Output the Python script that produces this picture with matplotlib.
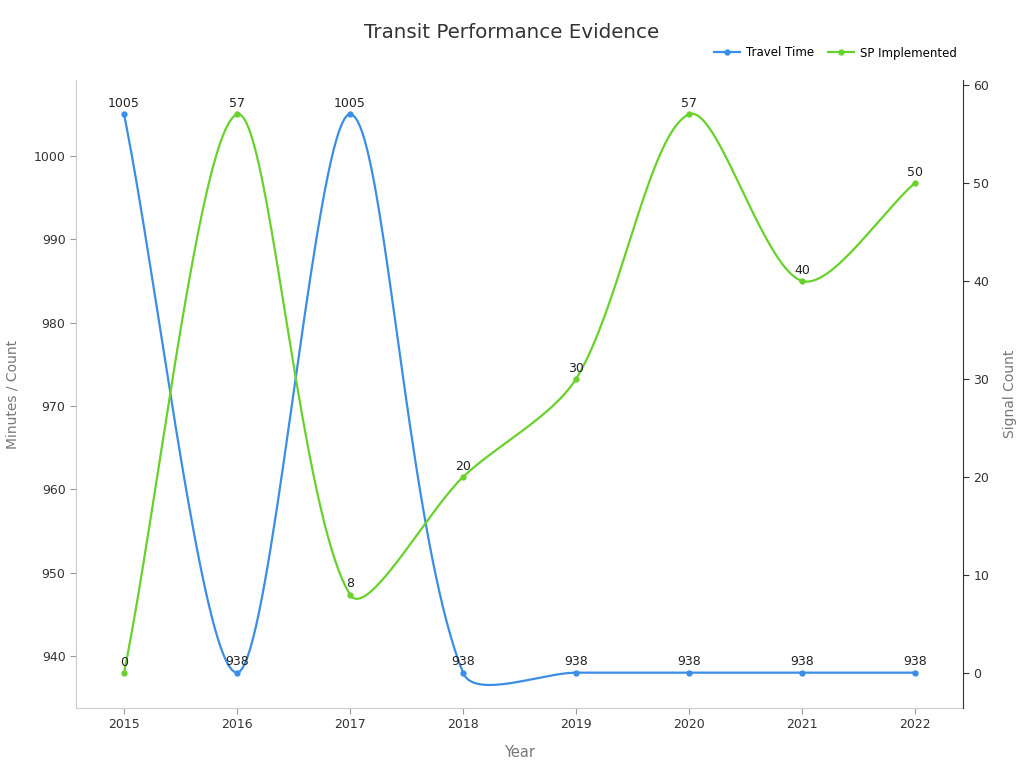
import numpy as np
import matplotlib
matplotlib.use("Agg")
import matplotlib.pyplot as plt
from matplotlib.lines import Line2D

years = [2015, 2016, 2017, 2018, 2019, 2020, 2021, 2022]
travel_time = [1005, 938, 1005, 938, 938, 938, 938, 938]
sp_implemented = [0, 57, 8, 20, 30, 57, 40, 50]

blue = "#3a8ee6"
green = "#67d22b"


def smooth_curve(ax, xs, ys, smooth=0.3, steps=40):
    # bezier smoothing done in pixel space
    pts = ax.transData.transform(np.column_stack([xs, ys]))
    n = len(pts)
    cps = []
    for i in range(n):
        p = pts[i]
        prev = pts[i - 1] if i > 0 else p
        nxt = pts[i + 1] if i < n - 1 else p
        d0 = np.hypot(*(p - prev))
        d1 = np.hypot(*(nxt - p))
        s = d0 + d1
        if s > 0:
            d0, d1 = d0 / s, d1 / s
        v = (nxt - prev) * smooth
        cps.append((p - v * d0, p + v * d1))
    out = []
    t = np.linspace(0, 1, steps)[:, None]
    for i in range(n - 1):
        p0, p3 = pts[i], pts[i + 1]
        c1, c2 = cps[i][1], cps[i + 1][0]
        seg = ((1 - t) ** 3) * p0 + 3 * ((1 - t) ** 2) * t * c1 + 3 * (1 - t) * t ** 2 * c2 + t ** 3 * p3
        out.append(seg if i == 0 else seg[1:])
    out = np.vstack(out)
    data = ax.transData.inverted().transform(out)
    return data[:, 0], data[:, 1]


fig = plt.figure(figsize=(10.24, 7.68), dpi=100)
ax = fig.add_axes([76 / 1024, 1 - 708 / 768, (963 - 76) / 1024, (708 - 80) / 768])
ax2 = ax.twinx()

ax.set_xlim(2014.575, 2022.425)
ax.set_ylim(933.76, 1009.1)
ax2.set_ylim(-3.57, 60.5)

bx, by = smooth_curve(ax, years, travel_time)
ax.plot(bx, by, color=blue, lw=1.6, zorder=3)
ax.plot(years, travel_time, "o", color=blue, ms=3.5, zorder=4)

gx, gy = smooth_curve(ax2, years, sp_implemented)
ax2.plot(gx, gy, color=green, lw=1.6, zorder=3)
ax2.plot(years, sp_implemented, "o", color=green, ms=3.5, zorder=4)

for x, y in zip(years, travel_time):
    ax.annotate(str(y), (x, y), xytext=(0, 3), textcoords="offset points",
                ha="center", va="bottom", fontsize=9, color="#222222")
for x, y in zip(years, sp_implemented):
    ax2.annotate(str(y), (x, y), xytext=(0, 3), textcoords="offset points",
                 ha="center", va="bottom", fontsize=9, color="#222222")

ax.set_xticks(years)
ax.set_xticklabels([str(y) for y in years])
ax.set_yticks([940, 950, 960, 970, 980, 990, 1000])
ax2.set_yticks([0, 10, 20, 30, 40, 50, 60])

for a in (ax, ax2):
    a.spines["top"].set_visible(False)
    a.tick_params(labelsize=9, colors="#333333", length=4, width=0.8)
ax.spines["left"].set_color("#cccccc")
ax.spines["bottom"].set_color("#cccccc")
ax.spines["right"].set_visible(False)
ax2.spines["left"].set_visible(False)
ax2.spines["bottom"].set_visible(False)
ax2.spines["right"].set_color("#333333")
ax.tick_params(axis="x", color="#999999")
ax.tick_params(axis="y", color="#999999")

ax.set_xlabel("Year", fontsize=10.5, color="#777777", labelpad=10)
ax.set_ylabel("Minutes / Count", fontsize=10, color="#777777", labelpad=10)
ax2.set_ylabel("Signal Count", fontsize=10, color="#777777", labelpad=10)

fig.text(0.5, 1 - 33 / 768, "Transit Performance Evidence", ha="center", va="center",
         fontsize=14.3, color="#333333")

handles = [
    Line2D([], [], color=blue, lw=1.6, marker="o", ms=3.5),
    Line2D([], [], color=green, lw=1.6, marker="o", ms=3.5),
]
fig.legend(handles, ["Travel Time", "SP Implemented"], loc="center right",
           bbox_to_anchor=(0.945, 1 - 53 / 768), ncol=2, frameon=False, fontsize=8.5,
           handlelength=2.2, columnspacing=1.2, handletextpad=0.5)

fig.savefig("out.png", dpi=100)
